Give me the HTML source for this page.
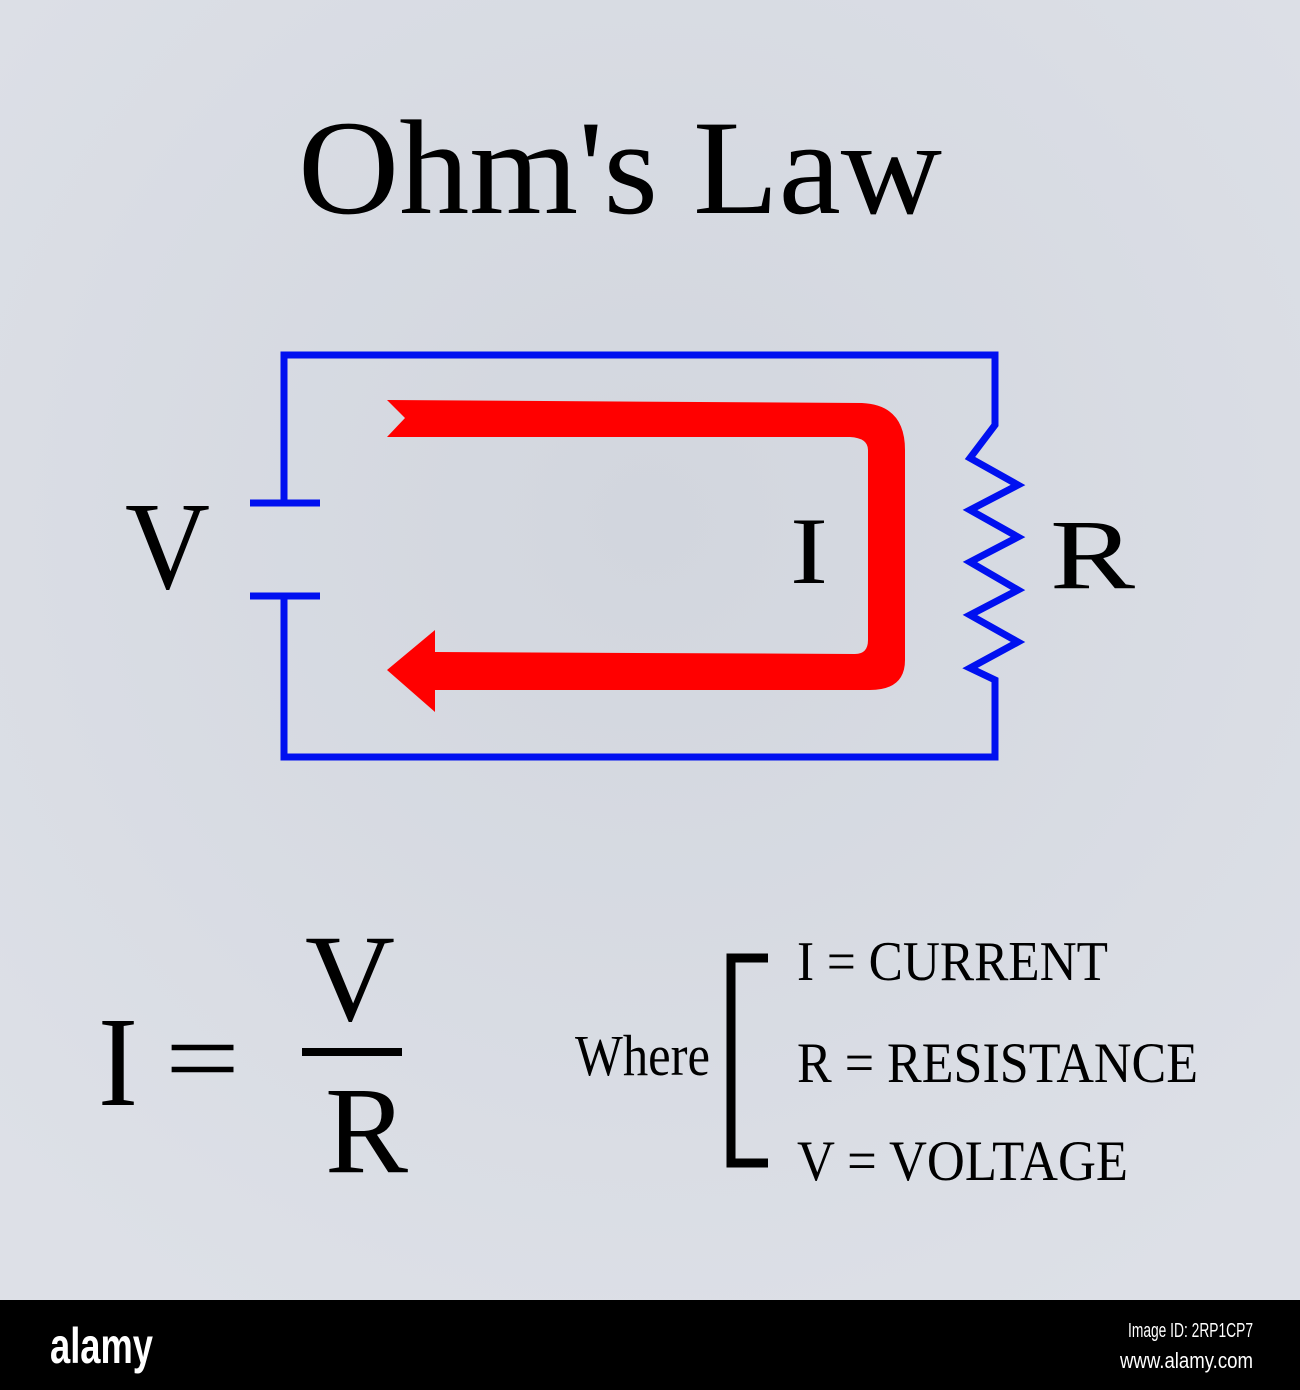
<!DOCTYPE html>
<html><head><meta charset="utf-8"><style>
html,body{margin:0;padding:0;width:1300px;height:1390px;overflow:hidden;background:#d8dce3}
svg{display:block}
text{font-family:"Liberation Serif",serif;fill:#000}
</style></head><body>
<svg width="1300" height="1390" viewBox="0 0 1300 1390" xmlns="http://www.w3.org/2000/svg">
<defs><radialGradient id="g" cx="0.5" cy="0.4" r="0.7"><stop offset="0" stop-color="#d2d6de"/><stop offset="1" stop-color="#dde0e7"/></radialGradient></defs>
<rect x="0" y="0" width="1300" height="1300" fill="url(#g)"/>
<text x="298" y="213" font-size="135" textLength="644" lengthAdjust="spacingAndGlyphs">Ohm's Law</text>
<!-- circuit -->
<g fill="none" stroke="#0010f0" stroke-width="7">
<polyline points="250,503 320,503"/>
<polyline points="250,596 320,596"/>
<polyline points="284,503 284,355 995,355 995,425 970,458 1018,485 970,510 1018,537 970,562 1018,590 970,615 1018,642 970,668 995,680 995,757 284,757 284,596"/>
</g>
<!-- red arrow -->
<path d="M387,400 L862,403 Q905,405 905,450 L905,660 Q905,690 870,690 L435,690 L435,712 L387,670 L435,630 L435,652 L855,654 Q868,654 868,640 L868,450 Q868,438 850,437 L387,437 L405,418 Z" fill="#ff0000"/>
<text x="125" y="588" font-size="125" textLength="85" lengthAdjust="spacingAndGlyphs">V</text>
<text x="790" y="583" font-size="95" textLength="38" lengthAdjust="spacingAndGlyphs">I</text>
<text x="1050" y="588" font-size="100" textLength="85" lengthAdjust="spacingAndGlyphs">R</text>
<!-- formula -->
<text x="98" y="1105" font-size="128" textLength="40" lengthAdjust="spacingAndGlyphs">I</text>
<text x="165" y="1095" font-size="110" textLength="75" lengthAdjust="spacingAndGlyphs">=</text>
<text x="305" y="1020" font-size="124" textLength="90" lengthAdjust="spacingAndGlyphs">V</text>
<rect x="302" y="1048" width="100" height="8" fill="#000"/>
<text x="325" y="1172" font-size="124" textLength="83" lengthAdjust="spacingAndGlyphs">R</text>
<text x="575" y="1075" font-size="58" textLength="135" lengthAdjust="spacingAndGlyphs">Where</text>
<path d="M768,958 L731,958 L731,1163 L768,1163" fill="none" stroke="#000" stroke-width="9"/>
<text x="797" y="980" font-size="56" textLength="311" lengthAdjust="spacingAndGlyphs">I = CURRENT</text>
<text x="797" y="1082" font-size="57" textLength="401" lengthAdjust="spacingAndGlyphs">R = RESISTANCE</text>
<text x="797" y="1180" font-size="57" textLength="331" lengthAdjust="spacingAndGlyphs">V = VOLTAGE</text>
<!-- bottom bar -->
<rect x="0" y="1300" width="1300" height="90" fill="#000"/>
<text x="50" y="1363" font-family="Liberation Sans,sans-serif" font-weight="bold" font-size="50" fill="#fff" style="fill:#fff;font-family:'Liberation Sans',sans-serif" textLength="103" lengthAdjust="spacingAndGlyphs">alamy</text>
<text x="1128" y="1337" font-size="20" style="fill:#fff;font-family:'Liberation Sans',sans-serif" textLength="125" lengthAdjust="spacingAndGlyphs">Image ID: 2RP1CP7</text>
<text x="1120" y="1368" font-size="22" style="fill:#fff;font-family:'Liberation Sans',sans-serif" textLength="133" lengthAdjust="spacingAndGlyphs">www.alamy.com</text>
</svg>
</body></html>
